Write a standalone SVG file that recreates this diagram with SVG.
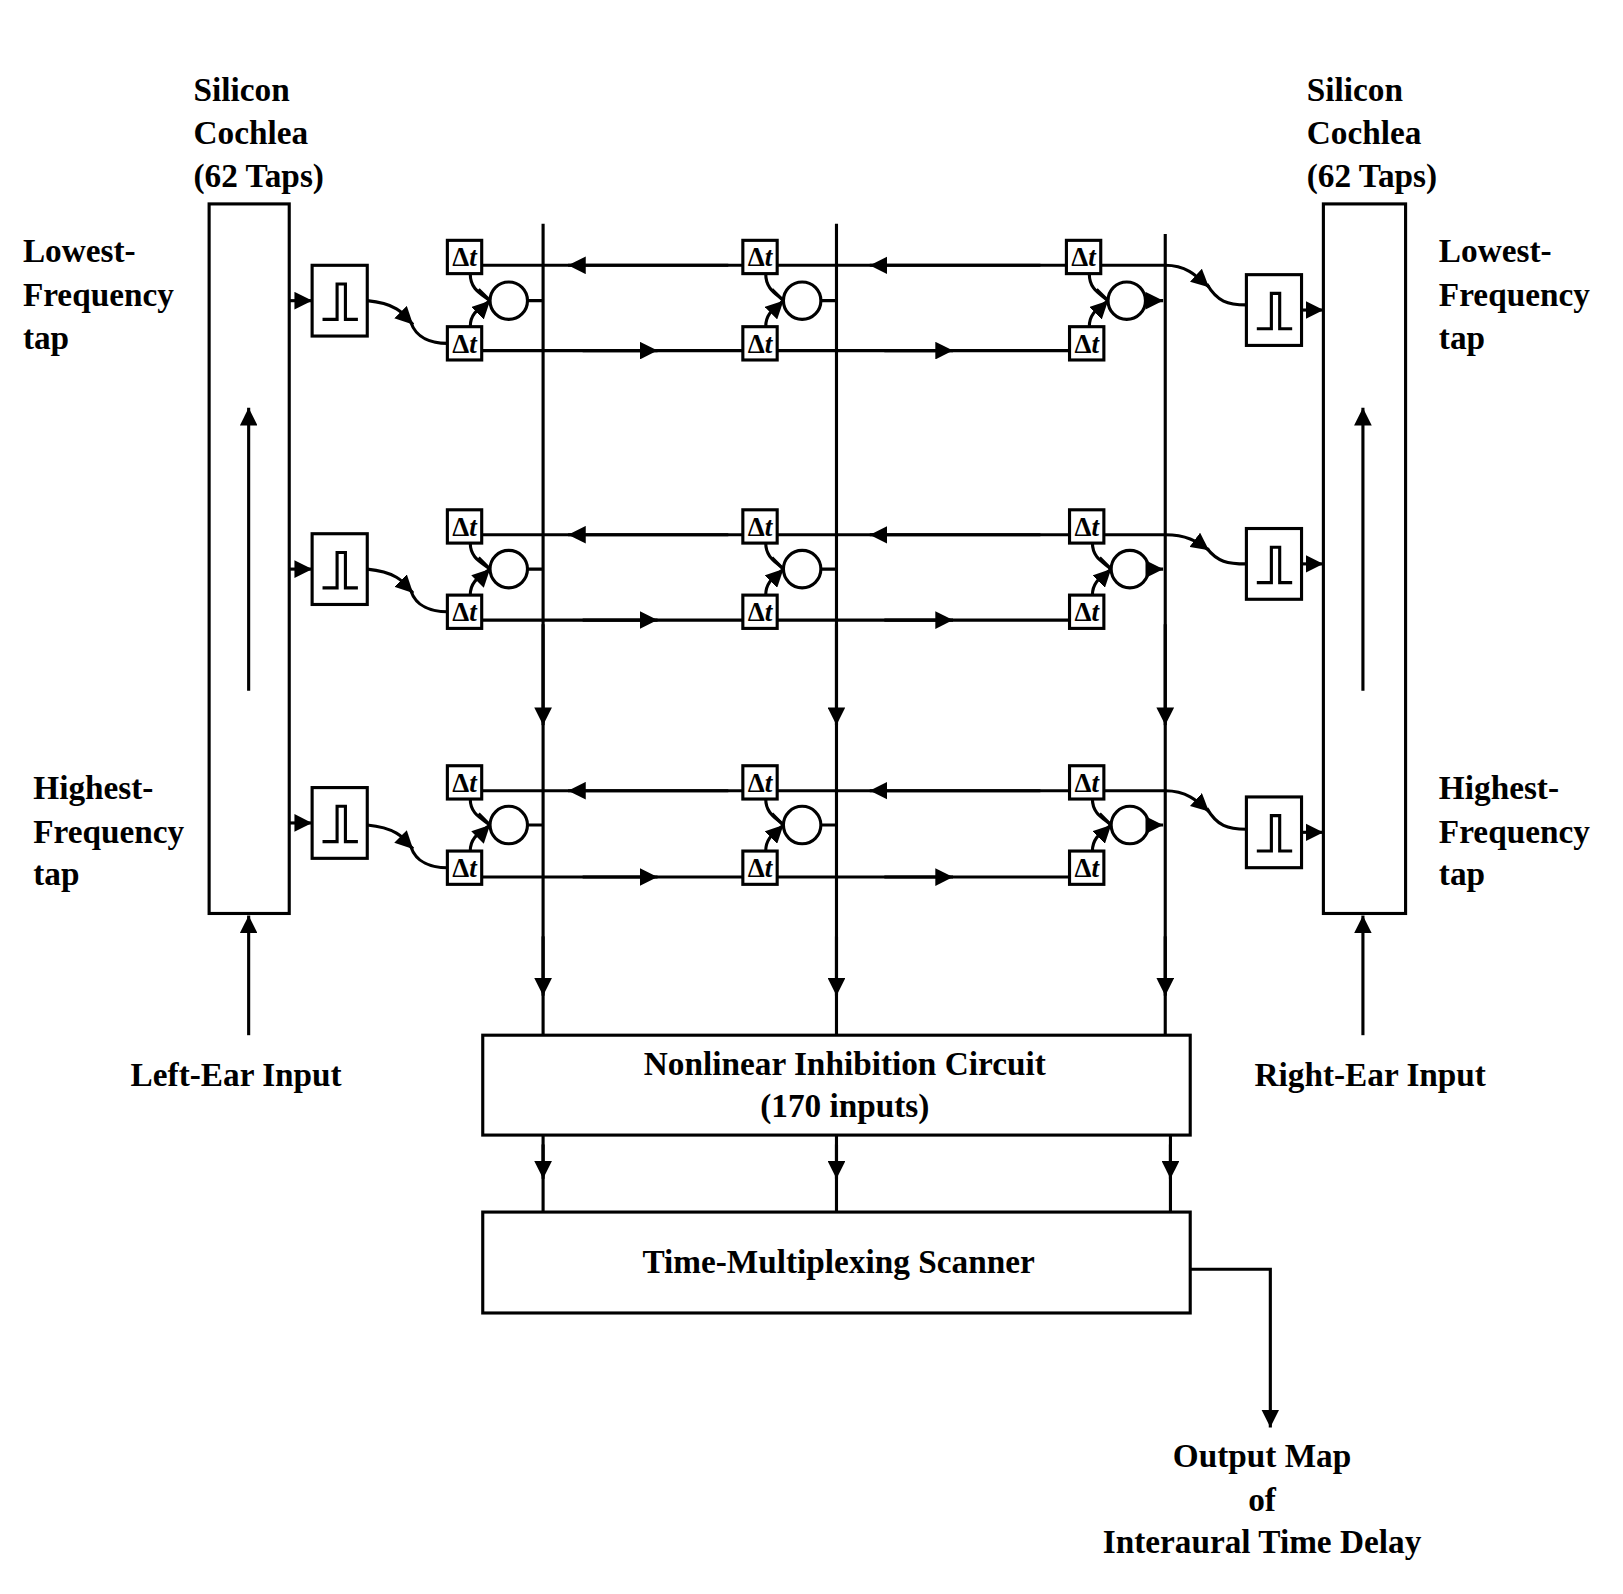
<svg xmlns="http://www.w3.org/2000/svg" width="1623" height="1594" viewBox="0 0 1623 1594">
<defs>
<marker id="a" viewBox="0 0 10 10" refX="10" refY="5" markerWidth="17" markerHeight="17" markerUnits="userSpaceOnUse" orient="auto"><path d="M0,0L10,5L0,10z" fill="#000"/></marker>
<marker id="b" viewBox="0 0 10 10" refX="10" refY="5" markerWidth="17" markerHeight="17" markerUnits="userSpaceOnUse" orient="auto"><path d="M0,0L10,5L0,10z" fill="#000"/></marker>
<g id="pulse"><rect x="0" y="0" width="53" height="68" fill="#fff" stroke="#000" stroke-width="3"/><path d="M10,52H24V18H32V52H44" fill="none" stroke="#000" stroke-width="3"/></g>
<g id="dt"><rect x="0" y="0" width="33" height="32" fill="#fff" stroke="#000" stroke-width="3"/><text x="16.5" y="25" text-anchor="middle" style="font:bold 26px 'Liberation Serif',serif">Δ<tspan font-style="italic">t</tspan></text></g>
</defs>
<style>
text{font-family:"Liberation Serif",serif;font-weight:bold;font-size:32px;fill:#000}
.l{fill:none;stroke:#000;stroke-width:3}
</style>
<rect width="1623" height="1594" fill="#fff"/>
<g transform="scale(1.0404)">
<g id="labels">
<text x="186" y="97">Silicon</text><text x="186" y="138">Cochlea</text><text x="186" y="180">(62 Taps)</text>
<text x="1256" y="97">Silicon</text><text x="1256" y="138">Cochlea</text><text x="1256" y="180">(62 Taps)</text>
<text x="22" y="252">Lowest-</text><text x="22" y="294">Frequency</text><text x="22" y="335">tap</text>
<text x="1383" y="252">Lowest-</text><text x="1383" y="294">Frequency</text><text x="1383" y="335">tap</text>
<text x="32" y="768">Highest-</text><text x="32" y="810">Frequency</text><text x="32" y="851">tap</text>
<text x="1383" y="768">Highest-</text><text x="1383" y="810">Frequency</text><text x="1383" y="851">tap</text>
<text x="227" y="1044" text-anchor="middle">Left-Ear Input</text>
<text x="1317" y="1044" text-anchor="middle">Right-Ear Input</text>
<text x="1213" y="1410" text-anchor="middle">Output Map</text>
<text x="1213" y="1452" text-anchor="middle">of</text>
<text x="1213" y="1493" text-anchor="middle">Interaural Time Delay</text>
</g>
<g id="cochleaL"><rect x="201" y="196" width="77" height="682" class="l"/></g>
<g id="cochleaR"><rect x="1272" y="196" width="79" height="682" class="l"/></g>
<g id="nic"><rect x="464" y="995" width="680" height="96" class="l"/><text x="812" y="1033" text-anchor="middle">Nonlinear Inhibition Circuit</text><text x="812" y="1074" text-anchor="middle">(170 inputs)</text></g>
<g id="tms"><rect x="464" y="1165" width="680" height="97" class="l"/><text x="806" y="1224" text-anchor="middle">Time-Multiplexing Scanner</text></g>
<g id="connectors" class="l">
<path d="M239,664V392" marker-end="url(#b)"/><path d="M1310,664V392" marker-end="url(#b)"/>
<path d="M239,995V880" marker-end="url(#b)"/><path d="M1310,995V880" marker-end="url(#b)"/>
<path d="M522,215V995M804,215V995M1120,225V995"/>
<path d="M522,600V697" marker-end="url(#b)"/><path d="M804,600V697" marker-end="url(#b)"/><path d="M1120,600V697" marker-end="url(#b)"/>
<path d="M522,900V957" marker-end="url(#b)"/><path d="M804,900V957" marker-end="url(#b)"/><path d="M1120,900V957" marker-end="url(#b)"/>
<path d="M522,1091V1165M804,1091V1165M1125,1091V1165"/>
<path d="M522,1100V1133" marker-end="url(#b)"/><path d="M804,1100V1133" marker-end="url(#b)"/><path d="M1125,1100V1133" marker-end="url(#b)"/>
<path d="M1144,1220H1221V1372" marker-end="url(#b)"/>
</g>
<g id="rows">
<g id="row1">
<path class="l" d="M278,289H300" marker-end="url(#a)"/>
<path class="l" d="M1251,298H1272" marker-end="url(#a)"/>
<path class="l" d="M353,289C385,292 390,305 397,312" marker-end="url(#a)"/><path class="l" d="M395,310C400,325 415,330 430,330"/>
<path class="l" d="M463,255H1025M463,337H1028"/>
<path class="l" d="M700,255H546" marker-end="url(#a)"/><path class="l" d="M1000,255H836" marker-end="url(#a)"/>
<path class="l" d="M560,337H632" marker-end="url(#a)"/><path class="l" d="M850,337H916" marker-end="url(#a)"/>
<path class="l" d="M1058,255H1120C1140,255 1150,265 1162,276" marker-end="url(#a)"/><path class="l" d="M1160,273C1170,290 1180,293 1198,293"/>
<g transform="translate(430,231)"><use href="#dt"/></g><g transform="translate(430,314)"><use href="#dt"/></g>
<g transform="translate(714,231)"><use href="#dt"/></g><g transform="translate(714,314)"><use href="#dt"/></g>
<g transform="translate(1025,231)"><use href="#dt"/></g><g transform="translate(1028,314)"><use href="#dt"/></g>
<g transform="translate(300,255)"><use href="#pulse"/></g><g transform="translate(1198,264)"><use href="#pulse"/></g>
<g class="l"><circle cx="489" cy="289" r="18"/><circle cx="771" cy="289" r="18"/><circle cx="1083" cy="289" r="18"/>
<path d="M452,263C452,278 462,282 471,289M452,314C452,300 462,296 471,289"/>
<path d="M460,278L471,289M460,300L471,289" marker-end="url(#a)"/>
<path d="M736,263C736,278 746,282 753,289M736,314C736,300 746,296 753,289"/>
<path d="M742,278L753,289M742,300L753,289" marker-end="url(#a)"/>
<path d="M1047,263C1047,278 1057,282 1065,289M1047,314C1047,300 1057,296 1065,289"/>
<path d="M1054,278L1065,289M1054,300L1065,289" marker-end="url(#a)"/>
<path d="M507,289H522M789,289H804M1101,289H1118" marker-end="url(#a)"/></g>
</g>
<g id="row2" transform="translate(0,258)">
<path class="l" d="M278,289H300" marker-end="url(#a)"/>
<path class="l" d="M1251,284H1272" marker-end="url(#a)"/>
<path class="l" d="M353,289C385,292 390,305 397,312" marker-end="url(#a)"/><path class="l" d="M395,310C400,325 415,330 430,330"/>
<path class="l" d="M463,256H1028M463,338H1028"/>
<path class="l" d="M700,256H546" marker-end="url(#a)"/><path class="l" d="M1000,256H836" marker-end="url(#a)"/>
<path class="l" d="M560,338H632" marker-end="url(#a)"/><path class="l" d="M850,338H916" marker-end="url(#a)"/>
<path class="l" d="M1061,256H1120C1140,256 1150,262 1162,271" marker-end="url(#a)"/><path class="l" d="M1160,269C1170,282 1180,284 1198,284"/>
<g transform="translate(430,232)"><use href="#dt"/></g><g transform="translate(430,314)"><use href="#dt"/></g>
<g transform="translate(714,232)"><use href="#dt"/></g><g transform="translate(714,314)"><use href="#dt"/></g>
<g transform="translate(1028,232)"><use href="#dt"/></g><g transform="translate(1028,314)"><use href="#dt"/></g>
<g transform="translate(300,255)"><use href="#pulse"/></g><g transform="translate(1198,250)"><use href="#pulse"/></g>
<g class="l"><circle cx="489" cy="289" r="18"/><circle cx="771" cy="289" r="18"/><circle cx="1086" cy="289" r="18"/>
<path d="M452,264C452,278 462,282 471,289M452,314C452,300 462,296 471,289"/>
<path d="M460,278L471,289M460,300L471,289" marker-end="url(#a)"/>
<path d="M736,264C736,278 746,282 753,289M736,314C736,300 746,296 753,289"/>
<path d="M742,278L753,289M742,300L753,289" marker-end="url(#a)"/>
<path d="M1050,264C1050,278 1060,282 1068,289M1050,314C1050,300 1060,296 1068,289"/>
<path d="M1057,278L1068,289M1057,300L1068,289" marker-end="url(#a)"/>
<path d="M507,289H522M789,289H804M1104,289H1118" marker-end="url(#a)"/></g>
</g>
<g id="row3" transform="translate(0,504)">
<path class="l" d="M278,287H300" marker-end="url(#a)"/>
<path class="l" d="M1251,296H1272" marker-end="url(#a)"/>
<path class="l" d="M353,289C385,292 390,305 397,312" marker-end="url(#a)"/><path class="l" d="M395,310C400,325 415,330 430,330"/>
<path class="l" d="M463,256H1028M463,339H1028"/>
<path class="l" d="M700,256H546" marker-end="url(#a)"/><path class="l" d="M1000,256H836" marker-end="url(#a)"/>
<path class="l" d="M560,339H632" marker-end="url(#a)"/><path class="l" d="M850,339H916" marker-end="url(#a)"/>
<path class="l" d="M1061,256H1120C1140,256 1150,265 1162,276" marker-end="url(#a)"/><path class="l" d="M1160,273C1170,290 1180,293 1198,293"/>
<g transform="translate(430,232)"><use href="#dt"/></g><g transform="translate(430,314)"><use href="#dt"/></g>
<g transform="translate(714,232)"><use href="#dt"/></g><g transform="translate(714,314)"><use href="#dt"/></g>
<g transform="translate(1028,232)"><use href="#dt"/></g><g transform="translate(1028,314)"><use href="#dt"/></g>
<g transform="translate(300,253)"><use href="#pulse"/></g><g transform="translate(1198,262)"><use href="#pulse"/></g>
<g class="l"><circle cx="489" cy="289" r="18"/><circle cx="771" cy="289" r="18"/><circle cx="1086" cy="289" r="18"/>
<path d="M452,264C452,278 462,282 471,289M452,314C452,300 462,296 471,289"/>
<path d="M460,278L471,289M460,300L471,289" marker-end="url(#a)"/>
<path d="M736,264C736,278 746,282 753,289M736,314C736,300 746,296 753,289"/>
<path d="M742,278L753,289M742,300L753,289" marker-end="url(#a)"/>
<path d="M1050,264C1050,278 1060,282 1068,289M1050,314C1050,300 1060,296 1068,289"/>
<path d="M1057,278L1068,289M1057,300L1068,289" marker-end="url(#a)"/>
<path d="M507,289H522M789,289H804M1104,289H1118" marker-end="url(#a)"/></g>
</g>
</g>
</g>
</svg>
